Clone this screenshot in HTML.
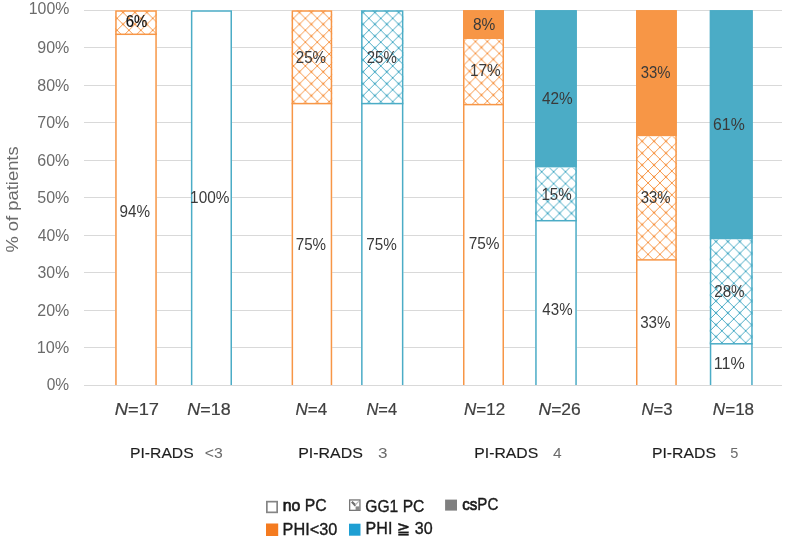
<!DOCTYPE html><html><head><meta charset="utf-8"><style>html,body{margin:0;padding:0;background:#fff;}svg{display:block;}text{font-family:"Liberation Sans",sans-serif;}</style></head><body>
<svg width="785" height="542" viewBox="0 0 785 542">
<g>
<rect x="0" y="0" width="785" height="542" fill="#fff"/>
<defs>
<pattern id="h_b1o" patternUnits="userSpaceOnUse" x="123" y="12.4" width="11.9" height="11.9"><path d="M0 0L11.9 11.9M11.9 0L0 11.9" stroke="#F79646" stroke-width="1.3" fill="none" shape-rendering="crispEdges"/><path d="M-1 -1L1 1M10.9 -1L12.9 1M-1 12.9L1 10.9M10.9 10.9L12.9 12.9" stroke="#F79646" stroke-width="1.3" fill="none"/></pattern>
<pattern id="h_b1b" patternUnits="userSpaceOnUse" x="198.7" y="12.4" width="11.9" height="11.9"><path d="M0 0L11.9 11.9M11.9 0L0 11.9" stroke="#4BACC6" stroke-width="1.3" fill="none" shape-rendering="crispEdges"/><path d="M-1 -1L1 1M10.9 -1L12.9 1M-1 12.9L1 10.9M10.9 10.9L12.9 12.9" stroke="#4BACC6" stroke-width="1.3" fill="none"/></pattern>
<pattern id="h_b2o" patternUnits="userSpaceOnUse" x="299.4" y="12.4" width="11.9" height="11.9"><path d="M0 0L11.9 11.9M11.9 0L0 11.9" stroke="#F79646" stroke-width="1.3" fill="none" shape-rendering="crispEdges"/><path d="M-1 -1L1 1M10.9 -1L12.9 1M-1 12.9L1 10.9M10.9 10.9L12.9 12.9" stroke="#F79646" stroke-width="1.3" fill="none"/></pattern>
<pattern id="h_b2b" patternUnits="userSpaceOnUse" x="362.95" y="12.4" width="11.9" height="11.9"><path d="M0 0L11.9 11.9M11.9 0L0 11.9" stroke="#4BACC6" stroke-width="1.3" fill="none" shape-rendering="crispEdges"/><path d="M-1 -1L1 1M10.9 -1L12.9 1M-1 12.9L1 10.9M10.9 10.9L12.9 12.9" stroke="#4BACC6" stroke-width="1.3" fill="none"/></pattern>
<pattern id="h_b3o" patternUnits="userSpaceOnUse" x="469.5" y="11.8" width="11.9" height="11.9"><path d="M0 0L11.9 11.9M11.9 0L0 11.9" stroke="#F79646" stroke-width="1.3" fill="none" shape-rendering="crispEdges"/><path d="M-1 -1L1 1M10.9 -1L12.9 1M-1 12.9L1 10.9M10.9 10.9L12.9 12.9" stroke="#F79646" stroke-width="1.3" fill="none"/></pattern>
<pattern id="h_b3b" patternUnits="userSpaceOnUse" x="547.65" y="11.1" width="11.9" height="11.9"><path d="M0 0L11.9 11.9M11.9 0L0 11.9" stroke="#4BACC6" stroke-width="1.3" fill="none" shape-rendering="crispEdges"/><path d="M-1 -1L1 1M10.9 -1L12.9 1M-1 12.9L1 10.9M10.9 10.9L12.9 12.9" stroke="#4BACC6" stroke-width="1.3" fill="none"/></pattern>
<pattern id="h_b4o" patternUnits="userSpaceOnUse" x="642.1" y="10.4" width="11.9" height="11.9"><path d="M0 0L11.9 11.9M11.9 0L0 11.9" stroke="#F79646" stroke-width="1.3" fill="none" shape-rendering="crispEdges"/><path d="M-1 -1L1 1M10.9 -1L12.9 1M-1 12.9L1 10.9M10.9 10.9L12.9 12.9" stroke="#F79646" stroke-width="1.3" fill="none"/></pattern>
<pattern id="h_b4b" patternUnits="userSpaceOnUse" x="715.95" y="15.5" width="11.9" height="11.9"><path d="M0 0L11.9 11.9M11.9 0L0 11.9" stroke="#4BACC6" stroke-width="1.3" fill="none" shape-rendering="crispEdges"/><path d="M-1 -1L1 1M10.9 -1L12.9 1M-1 12.9L1 10.9M10.9 10.9L12.9 12.9" stroke="#4BACC6" stroke-width="1.3" fill="none"/></pattern>
</defs>
<rect x="84" y="10" width="698" height="1" fill="#D9D9D9"/>
<rect x="84" y="47" width="698" height="1" fill="#D9D9D9"/>
<rect x="84" y="85" width="698" height="1" fill="#D9D9D9"/>
<rect x="84" y="122" width="698" height="1" fill="#D9D9D9"/>
<rect x="84" y="160" width="698" height="1" fill="#D9D9D9"/>
<rect x="84" y="197" width="698" height="1" fill="#D9D9D9"/>
<rect x="84" y="235" width="698" height="1" fill="#D9D9D9"/>
<rect x="84" y="272" width="698" height="1" fill="#D9D9D9"/>
<rect x="84" y="310" width="698" height="1" fill="#D9D9D9"/>
<rect x="84" y="347" width="698" height="1" fill="#D9D9D9"/>
<rect x="84" y="385" width="698" height="1" fill="#D9D9D9"/>
<rect x="115.2" y="10.2" width="41.6" height="24.1" fill="#fff"/>
<rect x="115.2" y="10.2" width="41.6" height="24.1" fill="url(#h_b1o)"/>
<rect x="115.2" y="34.3" width="41.6" height="351.2" fill="#fff"/>
<rect x="115.2" y="33.55" width="41.6" height="1.5" fill="#F79646"/>
<path d="M115.95 385.5V10.95H156.05V385.5" fill="none" stroke="#F79646" stroke-width="1.5"/>
<rect x="190.9" y="10.2" width="41.1" height="375.3" fill="#fff"/>
<path d="M191.65 385.5V10.95H231.25V385.5" fill="none" stroke="#4BACC6" stroke-width="1.5"/>
<rect x="291.6" y="10.2" width="40.6" height="93.4" fill="#fff"/>
<rect x="291.6" y="10.2" width="40.6" height="93.4" fill="url(#h_b2o)"/>
<rect x="291.6" y="103.6" width="40.6" height="281.9" fill="#fff"/>
<rect x="291.6" y="102.85" width="40.6" height="1.5" fill="#F79646"/>
<path d="M292.35 385.5V10.95H331.45V385.5" fill="none" stroke="#F79646" stroke-width="1.5"/>
<rect x="361.1" y="10.2" width="42.3" height="93.4" fill="#fff"/>
<rect x="361.1" y="10.2" width="42.3" height="93.4" fill="url(#h_b2b)"/>
<rect x="361.1" y="103.6" width="42.3" height="281.9" fill="#fff"/>
<rect x="361.1" y="102.85" width="42.3" height="1.5" fill="#4BACC6"/>
<path d="M361.85 385.5V10.95H402.65V385.5" fill="none" stroke="#4BACC6" stroke-width="1.5"/>
<rect x="463" y="10.2" width="41" height="29" fill="#F79646"/>
<rect x="463" y="39.2" width="41" height="65.4" fill="#fff"/>
<rect x="463" y="39.2" width="41" height="65.4" fill="url(#h_b3o)"/>
<rect x="463" y="104.6" width="41" height="280.9" fill="#fff"/>
<rect x="463" y="103.85" width="41" height="1.5" fill="#F79646"/>
<path d="M463.75 385.5V10.95H503.25V385.5" fill="none" stroke="#F79646" stroke-width="1.5"/>
<rect x="535.2" y="10.2" width="41.6" height="157.4" fill="#4BACC6"/>
<rect x="535.2" y="167.6" width="41.6" height="53.1" fill="#fff"/>
<rect x="535.2" y="167.6" width="41.6" height="53.1" fill="url(#h_b3b)"/>
<rect x="535.2" y="220.7" width="41.6" height="164.8" fill="#fff"/>
<rect x="535.2" y="219.95" width="41.6" height="1.5" fill="#4BACC6"/>
<path d="M535.95 385.5V10.95H576.05V385.5" fill="none" stroke="#4BACC6" stroke-width="1.5"/>
<rect x="636" y="10.2" width="40.8" height="126.2" fill="#F79646"/>
<rect x="636" y="136.4" width="40.8" height="123.5" fill="#fff"/>
<rect x="636" y="136.4" width="40.8" height="123.5" fill="url(#h_b4o)"/>
<rect x="636" y="259.9" width="40.8" height="125.6" fill="#fff"/>
<rect x="636" y="259.15" width="40.8" height="1.5" fill="#F79646"/>
<path d="M636.75 385.5V10.95H676.05V385.5" fill="none" stroke="#F79646" stroke-width="1.5"/>
<rect x="709.8" y="10.2" width="42.9" height="229.3" fill="#4BACC6"/>
<rect x="709.8" y="239.5" width="42.9" height="104.3" fill="#fff"/>
<rect x="709.8" y="239.5" width="42.9" height="104.3" fill="url(#h_b4b)"/>
<rect x="709.8" y="343.8" width="42.9" height="41.7" fill="#fff"/>
<rect x="709.8" y="343.05" width="42.9" height="1.5" fill="#4BACC6"/>
<path d="M710.55 385.5V10.95H751.95V385.5" fill="none" stroke="#4BACC6" stroke-width="1.5"/>
<rect x="84" y="385" width="698" height="1" fill="#D9D9D9"/>
<rect x="266.85" y="501.65" width="10.3" height="10.7" fill="#fff" stroke="#858585" stroke-width="1.7"/>
<rect x="349.65" y="499.95" width="10.3" height="10.4" fill="#fff" stroke="#777" stroke-width="1.3"/>
<path d="M351.8 501.8L355.6 505.6" stroke="#6e6e6e" stroke-width="2.2" fill="none"/>
<path d="M355.2 504.8L358.8 501.4" stroke="#b5b5b5" stroke-width="1.2" fill="none"/>
<rect x="355.6" y="506.4" width="4" height="3.8" fill="#8a8a8a"/>
<rect x="445.1" y="499.6" width="11.9" height="11" fill="#7f7f7f"/>
<rect x="266" y="523.5" width="12.2" height="12.5" fill="#F47B20"/>
<rect x="349" y="523.7" width="11.5" height="12" fill="#1E9FD3"/>
</g>
<text id="t100" transform="matrix(0.9765 0 0 1 28.78 14.25)" font-size="16.23" fill="#6b6b6b">100%</text>
<text id="t10" transform="matrix(1.0019 0 0 1 36.75 353.04)" font-size="16.23" fill="#6b6b6b">10%</text>
<text id="t20" transform="matrix(0.9859 0 0 1 37.26 315.54)" font-size="16.23" fill="#6b6b6b">20%</text>
<text id="t30" transform="matrix(0.9774 0 0 1 37.52 278.04)" font-size="16.23" fill="#6b6b6b">30%</text>
<text id="t40" transform="matrix(0.9699 0 0 1 37.76 240.54)" font-size="16.23" fill="#6b6b6b">40%</text>
<text id="t50" transform="matrix(0.9857 0 0 1 37.26 203.04)" font-size="16.23" fill="#6b6b6b">50%</text>
<text id="t60" transform="matrix(0.9859 0 0 1 37.26 165.54)" font-size="16.23" fill="#6b6b6b">60%</text>
<text id="t70" transform="matrix(0.9859 0 0 1 37.26 128.04)" font-size="16.23" fill="#6b6b6b">70%</text>
<text id="t80" transform="matrix(0.9859 0 0 1 37.26 90.54)" font-size="16.23" fill="#6b6b6b">80%</text>
<text id="t90" transform="matrix(0.9859 0 0 1 37.26 53.04)" font-size="16.23" fill="#6b6b6b">90%</text>
<text id="t0" transform="matrix(0.9563 0 0 1 46.72 390.46)" font-size="16.23" fill="#6b6b6b">0%</text>
<text id="d1" transform="matrix(0.9218 0 0 1 125.81 27.36)" font-size="16.20" fill="#111" stroke="#111" stroke-width="0.2">6%</text>
<text id="d2" transform="matrix(0.9437 0 0 1 119.49 217.35)" font-size="16.20" fill="#3a3a3a">94%</text>
<text id="d3" transform="matrix(0.9498 0 0 1 190.11 202.75)" font-size="16.20" fill="#3a3a3a">100%</text>
<text id="d4" transform="matrix(0.9366 0 0 1 295.7 62.54)" font-size="16.20" fill="#3a3a3a">25%</text>
<text id="d5" transform="matrix(0.9284 0 0 1 366.71 62.54)" font-size="16.20" fill="#3a3a3a">25%</text>
<text id="d6" transform="matrix(0.9362 0 0 1 295.7 249.75)" font-size="16.20" fill="#3a3a3a">75%</text>
<text id="d7" transform="matrix(0.9447 0 0 1 366.29 249.75)" font-size="16.20" fill="#3a3a3a">75%</text>
<text id="d8" transform="matrix(0.9567 0 0 1 472.96 30.25)" font-size="16.20" fill="#3a3a3a">8%</text>
<text id="d9" transform="matrix(0.9466 0 0 1 470.03 75.87)" font-size="16.20" fill="#3a3a3a">17%</text>
<text id="d10" transform="matrix(0.9520 0 0 1 468.69 248.75)" font-size="16.20" fill="#3a3a3a">75%</text>
<text id="d11" transform="matrix(0.9486 0 0 1 541.96 103.99)" font-size="16.20" fill="#3a3a3a">42%</text>
<text id="d12" transform="matrix(0.9365 0 0 1 541.42 200.05)" font-size="16.20" fill="#3a3a3a">15%</text>
<text id="d13" transform="matrix(0.9317 0 0 1 542.37 314.75)" font-size="16.20" fill="#3a3a3a">43%</text>
<text id="d14" transform="matrix(0.9202 0 0 1 640.81 77.55)" font-size="16.20" fill="#3a3a3a">33%</text>
<text id="d15" transform="matrix(0.9202 0 0 1 640.81 202.55)" font-size="16.20" fill="#3a3a3a">33%</text>
<text id="d16" transform="matrix(0.9372 0 0 1 640.13 328.04)" font-size="16.20" fill="#3a3a3a">33%</text>
<text id="d17" transform="matrix(0.9764 0 0 1 713.06 130.35)" font-size="16.20" fill="#3a3a3a">61%</text>
<text id="d18" transform="matrix(0.9381 0 0 1 714.19 297.35)" font-size="16.20" fill="#3a3a3a">28%</text>
<text id="d19" transform="matrix(0.9923 0 0 1 713.76 369.25)" font-size="16.20" fill="#3a3a3a">11%</text>
<text id="n1" transform="matrix(1.1454 0 0 1 114.73 415.16)" font-size="16.00" fill="#404040" stroke="#404040" stroke-width="0.2"><tspan font-style="italic">N</tspan>=17</text>
<text id="n2" transform="matrix(1.1184 0 0 1 187.35 415.15)" font-size="16.00" fill="#404040" stroke="#404040" stroke-width="0.2"><tspan font-style="italic">N</tspan>=18</text>
<text id="n3" transform="matrix(1.0605 0 0 1 295.47 415.16)" font-size="16.00" fill="#404040" stroke="#404040" stroke-width="0.2"><tspan font-style="italic">N</tspan>=4</text>
<text id="n4" transform="matrix(1.0263 0 0 1 366.49 415.16)" font-size="16.00" fill="#404040" stroke="#404040" stroke-width="0.2"><tspan font-style="italic">N</tspan>=4</text>
<text id="n5" transform="matrix(1.0609 0 0 1 464.07 415.15)" font-size="16.00" fill="#404040" stroke="#404040" stroke-width="0.2"><tspan font-style="italic">N</tspan>=12</text>
<text id="n6" transform="matrix(1.0924 0 0 1 538.51 415.15)" font-size="16.00" fill="#404040" stroke="#404040" stroke-width="0.2"><tspan font-style="italic">N</tspan>=26</text>
<text id="n7" transform="matrix(1.0433 0 0 1 641.48 415.15)" font-size="16.00" fill="#404040" stroke="#404040" stroke-width="0.2"><tspan font-style="italic">N</tspan>=3</text>
<text id="n8" transform="matrix(1.0662 0 0 1 712.87 415.15)" font-size="16.00" fill="#404040" stroke="#404040" stroke-width="0.2"><tspan font-style="italic">N</tspan>=18</text>
<text id="p1a" transform="matrix(1.0346 0 0 1 129.96 457.67)" font-size="15.20" fill="#1e1e1e" stroke="#1e1e1e" stroke-width="0.15">PI-RADS</text>
<text id="p1b" transform="matrix(1.0189 0 0 1 204.82 457.67)" font-size="15.50" fill="#6b6b6b">&lt;3</text>
<text id="p2a" transform="matrix(1.0508 0 0 1 298.19 457.67)" font-size="15.20" fill="#1e1e1e" stroke="#1e1e1e" stroke-width="0.15">PI-RADS</text>
<text id="p2b" transform="matrix(1.1026 0 0 1 378.02 457.67)" font-size="15.50" fill="#6b6b6b">3</text>
<text id="p3a" transform="matrix(1.0383 0 0 1 474.26 457.67)" font-size="15.20" fill="#1e1e1e" stroke="#1e1e1e" stroke-width="0.15">PI-RADS</text>
<text id="p3b" transform="matrix(1.0057 0 0 1 553.03 457.9)" font-size="15.50" fill="#6b6b6b">4</text>
<text id="p4a" transform="matrix(1.0386 0 0 1 651.96 457.67)" font-size="15.20" fill="#1e1e1e" stroke="#1e1e1e" stroke-width="0.15">PI-RADS</text>
<text id="p4b" transform="matrix(0.9378 0 0 1 730.3 457.67)" font-size="15.50" fill="#6b6b6b">5</text>
<text id="l1" transform="matrix(0.9685 0 0 1 282.72 511.33)" font-size="16.35" fill="#1a1a1a" stroke="#1a1a1a" stroke-width="0.35"><tspan stroke-width="0.7">no</tspan> PC</text>
<text id="l2" transform="matrix(0.9384 0 0 1 365.3 511.77)" font-size="16.68" fill="#1a1a1a" stroke="#1a1a1a" stroke-width="0.35">GG1 PC</text>
<text id="l3" transform="matrix(0.9266 0 0 1 462.22 510.33)" font-size="16.35" fill="#1a1a1a" stroke="#1a1a1a" stroke-width="0.35"><tspan stroke-width="0.7">cs</tspan>PC</text>
<text id="l4" transform="matrix(0.9758 0 0 1 282.58 535.46)" font-size="16.70" fill="#1a1a1a" stroke="#1a1a1a" stroke-width="0.35">PHI&lt;30</text>
<text id="l5" transform="matrix(0.9618 0 0 1 365.61 534.15)" font-size="16.70" fill="#1a1a1a" stroke="#1a1a1a" stroke-width="0.35">PHI <tspan font-family="'DejaVu Sans', sans-serif">≧</tspan> 30</text>
<text id="title" transform="matrix(0 -1.1352 1 0 17.5 252.57)" font-size="16.20" fill="#6b6b6b">% of patients</text>
</svg></body></html>
